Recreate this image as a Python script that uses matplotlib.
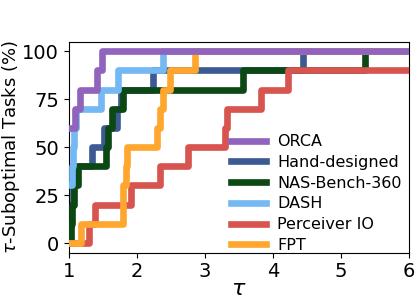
import matplotlib
matplotlib.use("Agg")
import matplotlib.pyplot as plt

# performance-profile data: tau where each step happens, % of tasks
orca_tau = [1.0, 1.09, 1.16, 1.41, 1.48, 6.0]
orca_pct = [60, 70, 80, 90, 100, 100]

hand_tau = [1.0, 1.06, 1.10, 1.34, 1.51, 1.70, 1.76, 2.24, 4.45, 6.0]
hand_pct = [20, 30, 40, 50, 60, 70, 80, 90, 100, 100]

nas_tau = [1.0, 1.03, 1.05, 1.07, 1.13, 1.55, 1.58, 1.63, 1.80, 3.56, 5.35, 6.0]
nas_pct = [0, 10, 20, 30, 40, 50, 60, 70, 80, 90, 100, 100]

dash_tau = [1.0, 1.04, 1.06, 1.08, 1.10, 1.47, 1.72, 2.38, 6.0]
dash_pct = [30, 40, 50, 60, 70, 80, 90, 100, 100]

perc_tau = [1.0, 1.29, 1.39, 1.92, 2.34, 2.75, 3.29, 3.33, 3.83, 4.22, 6.0]
perc_pct = [0, 10, 20, 30, 40, 50, 60, 70, 80, 90, 90]

fpt_tau = [1.0, 1.17, 1.79, 1.80, 1.84, 1.86, 2.29, 2.34, 2.39, 2.49, 2.85, 6.0]
fpt_pct = [0, 10, 20, 30, 40, 50, 60, 70, 80, 90, 100, 100]

series = [
    ("ORCA", orca_tau, orca_pct, "#9063bd", 7),
    ("Hand-designed", hand_tau, hand_pct, "#3c5b95", 2),
    ("NAS-Bench-360", nas_tau, nas_pct, "#0b4814", 3),
    ("DASH", dash_tau, dash_pct, "#74b8f4", 4),
    ("Perceiver IO", perc_tau, perc_pct, "#d8544f", 5),
    ("FPT", fpt_tau, fpt_pct, "#ffa62f", 6),
]

fig = plt.figure(figsize=(4.18, 2.99), dpi=100)
ax = fig.add_axes([0.165, 0.155, 0.813, 0.706])

for name, t, p, c, z in series:
    ax.plot(t, p, drawstyle="steps-post", color=c, lw=4.8, label=name, zorder=z)

ax.set_xlim(1, 6)
ax.set_ylim(-5, 105)
ax.set_xticks([1, 2, 3, 4, 5, 6])
ax.set_yticks([0, 25, 50, 75, 100])
ax.tick_params(labelsize=14)
ax.set_xlabel(r"$\tau$", fontsize=16, labelpad=-2)
ax.set_ylabel(r"$\tau$-Suboptimal Tasks (%)", fontsize=13, labelpad=0)

ax.legend(loc="lower right", bbox_to_anchor=(1.0, -0.035), frameon=False,
          fontsize=11.5, handlelength=2.2, borderaxespad=0.05,
          labelspacing=0.36, handletextpad=0.7)

fig.savefig("out.png", dpi=100)
